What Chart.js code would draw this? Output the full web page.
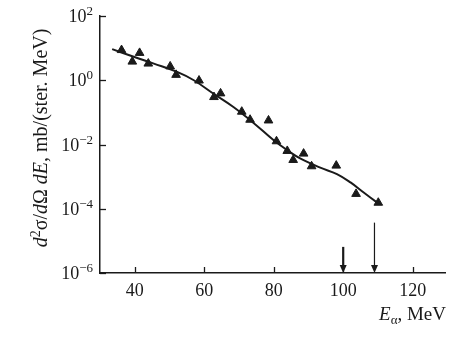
<!DOCTYPE html>
<html>
<head>
<meta charset="utf-8">
<script src="https://cdn.jsdelivr.net/npm/chart.js@4/dist/chart.umd.min.js"></script>
<style>
  html, body { margin: 0; padding: 0; background: #fff; }
</style>
</head>
<body>
<canvas id="chart" width="474" height="361"></canvas>
<script>
// measured points: alpha energy (MeV) and cross-section mb/(ster. MeV)
const pointE = [36.2, 39.3, 41.4, 43.9, 50.2, 51.9, 58.5, 62.8, 64.7, 70.8, 73.2, 78.5, 80.8, 83.9, 85.6, 88.6, 90.9, 98.0, 103.7, 110.1];
const pointSigma = [8.7, 3.8, 7.1, 3.3, 2.7, 1.47, 0.98, 0.30, 0.39, 0.105, 0.059, 0.056, 0.0126, 0.0063, 0.0033, 0.0052, 0.0021, 0.0022, 0.00029, 0.000154];

// smooth curve through the data
const curveE = [33.5, 39.7, 45.5, 52.2, 57.0, 62.7, 68.4, 74.2, 80.0, 84.3, 87.6, 93.4, 98.2, 102.1, 105.9, 109.7];
const curveSigma = [9.3, 5.4, 3.3, 1.82, 1.0, 0.38, 0.147, 0.047, 0.0135, 0.0062, 0.0037, 0.0019, 0.0012, 0.00066, 0.00032, 0.000158];

// ticks
const xTicks = [40, 60, 80, 100, 120];
const yTickExps = [2, 0, -2, -4, -6];

// arrows standing on the energy axis
const arrowE = [100, 109];
const arrowTop = [6.5e-6, 3.7e-5];

const SERIF = '"Liberation Serif", "DejaVu Serif", serif';
const INK = '#1a1a1a';

// draws a run of text pieces with their own font / vertical shift
function drawPieces(ctx, pieces, x, y, align) {
  let total = 0;
  pieces.forEach(p => { ctx.font = p.font; total += ctx.measureText(p.text).width; });
  let cx = x;
  if (align === 'center') cx = x - total / 2;
  if (align === 'right') cx = x - total;
  pieces.forEach(p => {
    ctx.font = p.font;
    ctx.fillText(p.text, cx, y + (p.dy || 0));
    cx += ctx.measureText(p.text).width;
  });
}

const axisDecor = {
  id: 'axisDecor',
  afterDraw(chart) {
    const ctx = chart.ctx;
    const xs = chart.scales.x;
    const ys = chart.scales.y;
    const bottom = ys.getPixelForValue(1e-6);
    const left = xs.getPixelForValue(xs.min);

    ctx.save();
    ctx.strokeStyle = INK;
    ctx.fillStyle = INK;
    ctx.lineWidth = 1.3;

    // inward tick marks
    xTicks.forEach(v => {
      const px = Math.round(xs.getPixelForValue(v)) + 0.5;
      ctx.beginPath();
      ctx.moveTo(px, bottom);
      ctx.lineTo(px, bottom - 6);
      ctx.stroke();
    });
    yTickExps.forEach(e => {
      const py = Math.round(ys.getPixelForValue(Math.pow(10, e))) + 0.5;
      ctx.beginPath();
      ctx.moveTo(left, py);
      ctx.lineTo(left + 6, py);
      ctx.stroke();
    });

    // x tick labels
    ctx.textBaseline = 'alphabetic';
    ctx.textAlign = 'center';
    ctx.font = '18px ' + SERIF;
    xTicks.forEach(v => {
      ctx.fillText(String(v), xs.getPixelForValue(v), bottom + 23);
    });

    // y tick labels: 10 with superscript exponent
    ctx.textAlign = 'left';
    yTickExps.forEach(e => {
      const py = ys.getPixelForValue(Math.pow(10, e));
      const exp = e < 0 ? '\u2212' + (-e) : String(e);
      drawPieces(ctx, [
        { text: '10', font: '18px ' + SERIF, dy: 6 },
        { text: exp, font: '13px ' + SERIF, dy: -1 }
      ], 93, py, 'right');
    });

    // x axis title
    drawPieces(ctx, [
      { text: 'E', font: 'italic 19px ' + SERIF },
      { text: '\u03b1', font: '13px ' + SERIF, dy: 4 },
      { text: ', MeV', font: '19px ' + SERIF }
    ], 446, 320, 'right');

    // y axis title, rotated
    ctx.save();
    ctx.translate(47, 138);
    ctx.rotate(-Math.PI / 2);
    drawPieces(ctx, [
      { text: 'd', font: 'italic 20px ' + SERIF },
      { text: '2', font: '14px ' + SERIF, dy: -7 },
      { text: '\u03c3/', font: '20px ' + SERIF },
      { text: 'd', font: 'italic 20px ' + SERIF },
      { text: '\u03a9 ', font: '20px ' + SERIF },
      { text: 'dE', font: 'italic 20px ' + SERIF },
      { text: ', mb/(ster. MeV)', font: '20px ' + SERIF }
    ], 0, 0, 'center');
    ctx.restore();

    // arrows
    arrowE.forEach((e, i) => {
      const px = xs.getPixelForValue(e);
      const top = ys.getPixelForValue(arrowTop[i]);
      ctx.lineWidth = i === 0 ? 2.2 : 1.2;
      ctx.beginPath();
      ctx.moveTo(px, top);
      ctx.lineTo(px, bottom - 6);
      ctx.stroke();
      ctx.beginPath();
      ctx.moveTo(px - 3.5, bottom - 8);
      ctx.lineTo(px + 3.5, bottom - 8);
      ctx.lineTo(px, bottom);
      ctx.closePath();
      ctx.fill();
    });
    ctx.restore();
  }
};

new Chart(document.getElementById('chart').getContext('2d'), {
  type: 'scatter',
  data: {
    datasets: [{
      label: 'data',
      data: pointE.map((e, i) => ({ x: e, y: pointSigma[i] })),
      pointStyle: 'triangle',
      radius: 5,
      backgroundColor: INK,
      borderColor: INK,
      borderWidth: 1,
      order: 0
    }, {
      type: 'line',
      label: 'fit',
      data: curveE.map((e, i) => ({ x: e, y: curveSigma[i] })),
      borderColor: INK,
      borderWidth: 2,
      pointRadius: 0,
      fill: false,
      tension: 0.4,
      order: 1
    }]
  },
  options: {
    responsive: false,
    animation: false,
    layout: { padding: { left: 100, top: 16, right: 29, bottom: 88 } },
    plugins: { legend: { display: false }, tooltip: { enabled: false } },
    scales: {
      x: {
        type: 'linear',
        min: 30,
        max: 129.3,
        grid: { display: false, drawTicks: false },
        border: { display: true, color: INK, width: 1.5 },
        ticks: { display: false }
      },
      y: {
        type: 'logarithmic',
        min: 1e-6,
        max: 100,
        grid: { display: false, drawTicks: false },
        border: { display: true, color: INK, width: 1.5 },
        ticks: { display: false }
      }
    }
  },
  plugins: [axisDecor]
});
</script>
</body>
</html>
